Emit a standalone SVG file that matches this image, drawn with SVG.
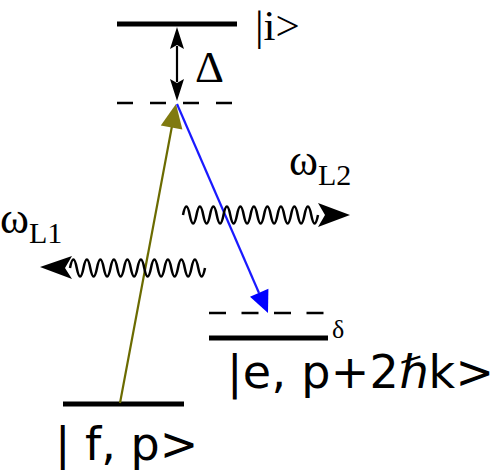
<svg xmlns="http://www.w3.org/2000/svg" width="500" height="470" viewBox="0 0 500 470">
<defs>
<style>
.lvl{stroke:#000;stroke-width:5;fill:none}
.dash{stroke:#000;stroke-width:2.5;fill:none}
.wave{stroke:#000;stroke-width:2.5;fill:none}
.serif{font-family:"Liberation Serif","Times New Roman",serif;fill:#000}
.sans{font-family:"DejaVu Sans","Liberation Sans",sans-serif;fill:#000}
</style>
</defs>
<rect width="500" height="470" fill="#fff"/>
<g id="level-i">
<line class="lvl" x1="117" y1="24" x2="237" y2="24"/>
<text class="serif" x="255" y="40" font-size="43">|i&gt;</text>
</g>
<g id="virtual-level">
<line class="dash" x1="117" y1="103" x2="232" y2="103" stroke-dasharray="16 17"/>
</g>
<g id="level-e">
<line class="dash" x1="209" y1="313" x2="324" y2="313" stroke-dasharray="17 15.5"/>
<line class="lvl" x1="209" y1="338" x2="328" y2="338"/>
<text class="serif" x="332" y="338" font-size="26">δ</text>
<text class="sans" x="227" y="388" font-size="46" letter-spacing="0.3">|e, p+2ℏk&gt;</text>
</g>
<g id="level-f">
<line class="lvl" x1="63" y1="404" x2="184" y2="404"/>
<text class="sans" x="55" y="460" font-size="46">| f, p&gt;</text>
</g>
<g id="connectors">
<g id="delta">
<line x1="177" y1="46" x2="177" y2="82" stroke="#000" stroke-width="2.2"/>
<path d="M177,27 L170,49 L177,45 L184,49 Z" fill="#000"/>
<path d="M177,101 L170,79 L177,83 L184,79 Z" fill="#000"/>
<text class="serif" x="195" y="82" font-size="45">Δ</text>
</g>
<g id="pump">
<line x1="120" y1="403" x2="172" y2="126" stroke="#6b6b00" stroke-width="2.2"/>
<polygon points="176,104 160.8,125.6 182.4,129.6" fill="#807a10"/>
</g>
<g id="stokes">
<line x1="177" y1="104" x2="259" y2="293" stroke="#1a1aff" stroke-width="2.2"/>
<polygon points="268,313 250,296.8 268.4,288.8" fill="#0000ff"/>
</g>
<g id="omegaL1">
<path class="wave" d="M70,268 q3.375,-17 6.75,0 t6.75,0 t6.75,0 t6.75,0 t6.75,0 t6.75,0 t6.75,0 t6.75,0 t6.75,0 t6.75,0 t6.75,0 t6.75,0 t6.75,0 t6.75,0 t6.75,0 t6.75,0 t6.75,0 t6.75,0 t6.75,0 t6.75,0"/>
<path d="M40,267 L72,256 L65,268 L72,279 Z" fill="#000"/>
<text class="serif" x="0" y="233" font-size="44">ω<tspan font-size="30" dy="10">L1</tspan></text>
</g>
<g id="omegaL2">
<path class="wave" d="M183,215 q3.375,-17 6.75,0 t6.75,0 t6.75,0 t6.75,0 t6.75,0 t6.75,0 t6.75,0 t6.75,0 t6.75,0 t6.75,0 t6.75,0 t6.75,0 t6.75,0 t6.75,0 t6.75,0 t6.75,0 t6.75,0 t6.75,0 t6.75,0 t6.75,0"/>
<path d="M350,215 L318,203 L325,215 L318,227 Z" fill="#000"/>
<text class="serif" x="289" y="175" font-size="44">ω<tspan font-size="30" dy="10">L2</tspan></text>
</g>
</g>
</svg>
